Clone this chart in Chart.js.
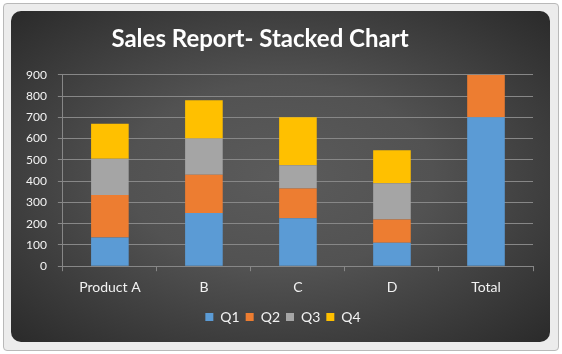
<!DOCTYPE html>
<html>
<head>
<meta charset="utf-8">
<script src="https://cdn.jsdelivr.net/npm/chart.js@4"></script>
<style>
    html, body { margin: 0; padding: 0; background: #ffffff; }
    #frame {
        position: absolute; left: 3px; top: 3px; width: 554px; height: 346px;
        border: 1px solid #b9b9b9; background: #ececec; border-radius: 4px;
    }
    #panel {
        position: absolute; left: 11px; top: 11px; width: 539px; height: 331px;
        border-radius: 10px; overflow: hidden;
        background: radial-gradient(ellipse at 50% 50%, #5b5b5b 0%, #525252 40%, #2a2a2a 100%);
    }
    canvas { display: block; }
</style>
</head>
<body>
<div id="frame"></div>
<div id="panel"><canvas id="salesChart" width="539" height="331"></canvas></div>
<script>
document.addEventListener('DOMContentLoaded', function () {
    const categories = ['Product A', 'B', 'C', 'D', 'Total'];
    const q1Values = [135, 250, 225, 110, 700];
    const q2Values = [200, 180, 140, 110, 200];
    const q3Values = [170, 170, 110, 170, 0];
    const q4Values = [165, 180, 225, 155, 0];
    const seriesNames = ['Q1', 'Q2', 'Q3', 'Q4'];
    const seriesColors = ['#5b9bd5', '#ed7d31', '#a5a5a5', '#ffc000'];

    const textColor = '#f2f2f2';
    const lineColor = '#878787';

    const ctx = document.getElementById('salesChart').getContext('2d');

    const datasets = [q1Values, q2Values, q3Values, q4Values].map((values, i) => ({
        label: seriesNames[i],
        data: values,
        backgroundColor: seriesColors[i],
        borderWidth: 0,
        categoryPercentage: 1.0,
        barPercentage: 0.4
    }));

    // Excel puts the title a bit left of centre and the legend a bit right, nudge the boxes
    const blockShift = {
        id: 'blockShift',
        afterLayout(chart) {
            if (chart.titleBlock) chart.titleBlock.left -= 28;
            if (chart.legend) {
                chart.legend.left += 9;
                chart.legend.right += 9;
            }
        }
    };

    Chart.defaults.font.family = 'Lato, "Open Sans", sans-serif';
    Chart.defaults.color = textColor;

    new Chart(ctx, {
        type: 'bar',
        data: { labels: categories, datasets: datasets },
        plugins: [blockShift],
        options: {
            responsive: false,
            animation: false,
            layout: { padding: { left: 4, right: 17, top: 6, bottom: 8 } },
            scales: {
                x: {
                    stacked: true,
                    grid: {
                        drawOnChartArea: false,
                        color: lineColor,
                        tickLength: 5
                    },
                    border: { color: lineColor, width: 1 },
                    ticks: { color: textColor, font: { size: 14 }, padding: 8 }
                },
                y: {
                    stacked: true,
                    min: 0,
                    max: 900,
                    ticks: { stepSize: 100, color: textColor, font: { size: 12 }, padding: 11 },
                    grid: { color: lineColor, tickLength: 5 },
                    border: { color: lineColor, width: 1 }
                }
            },
            plugins: {
                title: {
                    display: true,
                    text: 'Sales Report- Stacked Chart',
                    color: '#ffffff',
                    font: { size: 24, weight: 'bold' },
                    padding: { top: 8, bottom: 21 }
                },
                legend: {
                    position: 'bottom',
                    labels: {
                        boxWidth: 8,
                        boxHeight: 8,
                        padding: 6,
                        color: textColor,
                        font: { size: 14 }
                    }
                },
                tooltip: { enabled: false }
            }
        }
    });
});
</script>
</body>
</html>
